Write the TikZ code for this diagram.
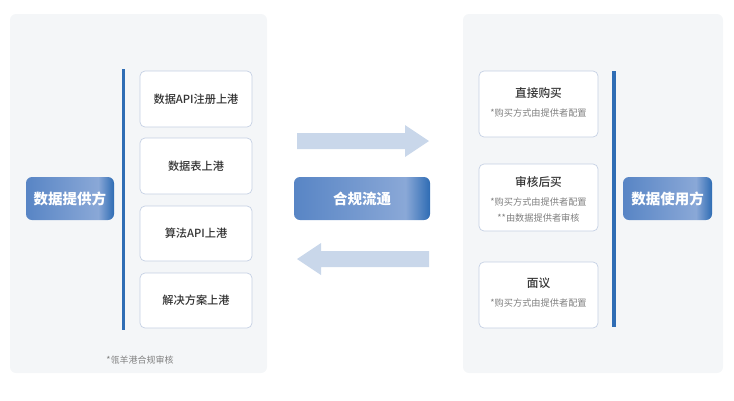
\documentclass[tikz,border=0pt]{standalone}
\usepackage{fontspec}
\setmainfont{Noto Sans CJK SC}
\newfontfamily\cjkmed{Noto Sans CJK SC}[UprightFont=* Medium]
\definecolor{panelbg}{HTML}{F4F6F8}
\definecolor{barblue}{HTML}{2F6DB5}
\definecolor{boxline}{HTML}{C6D1E4}
\definecolor{arrowc}{HTML}{C9D7EA}
\definecolor{txtdark}{HTML}{333333}
\definecolor{txtgray}{HTML}{808080}
\definecolor{lbA}{HTML}{5885C5}
\definecolor{lbB}{HTML}{8AA8D7}
\definecolor{lbC}{HTML}{2E6CB4}
\pgfdeclarehorizontalshading{lblshade}{100bp}{color(0bp)=(lbA); color(25bp)=(lbA); color(66bp)=(lbB); color(75bp)=(lbC); color(100bp)=(lbC)}
\begin{document}
\begin{tikzpicture}[x=1pt,y=-1pt,
  panel/.style={fill=panelbg,draw=none,rounded corners=6pt},
  lbl/.style={rounded corners=6pt,shading=lblshade,shading angle=0,draw=none,minimum width=88pt,minimum height=43pt,text=white,font=\bfseries\fontsize{14.5}{17}\selectfont,inner sep=0pt},
  itembox/.style={draw=boxline,line width=0.7pt,fill=white,rounded corners=5pt,inner sep=0pt},
  itemtxt/.style={text=txtdark,font=\cjkmed\fontsize{11.2}{13}\selectfont},
  ttl/.style={text=txtdark,font=\cjkmed\fontsize{11.7}{14}\selectfont},
  sub/.style={text=txtgray,font=\fontsize{9.2}{11}\selectfont},
  vbar/.style={barblue,line width=3.5pt},
  bigarrow/.style={fill=arrowc,draw=none}
]
\useasboundingbox (0,0) rectangle (734,400);
% panels
\fill[panel] (10,14) rectangle (267,373);
\fill[panel] (463,14) rectangle (723,373);
% left side
\node[lbl] (prov) at (70,198.5) {数据提供方};
\coordinate (lbt) at (123.5,69);
\coordinate (lbb) at (123.5,330);
\draw[vbar] (lbt) -- (lbb);
\node[itembox,minimum width=112pt,minimum height=56pt] (b1) at (196,99) {};
\node[itemtxt] (t1) at (b1.center) {数据API注册上港};
\node[itembox,minimum width=112pt,minimum height=56pt] (b2) at (196,166) {};
\node[itemtxt] (t2) at (b2.center) {数据表上港};
\node[itembox,minimum width=112pt,minimum height=55pt] (b3) at (196,233.5) {};
\node[itemtxt] (t3) at (b3.center) {算法API上港};
\node[itembox,minimum width=112pt,minimum height=55pt] (b4) at (196,300.5) {};
\node[itemtxt] (t4) at (b4.center) {解决方案上港};
\node[sub,font=\fontsize{9}{11}\selectfont] (foot) at (140,360) {*瓴羊港合规审核};
% middle
\fill[bigarrow] (297,133) -- (405,133) -- (405,125) -- (429,141) -- (405,157) -- (405,149) -- (297,149) -- cycle;
\node[lbl,minimum width=136pt] (mid) at (362,198.5) {合规流通};
\fill[bigarrow] (429,251) -- (321,251) -- (321,243) -- (297,259) -- (321,275) -- (321,267) -- (429,267) -- cycle;
% right side
\node[itembox,minimum width=119pt,minimum height=66pt] (r1) at (538.5,104) {};
\node[ttl] (r1t) at (538.5,93) {直接购买};
\node[sub] (r1s) at (538.5,113) {*购买方式由提供者配置};
\node[itembox,minimum width=119pt,minimum height=67pt] (r2) at (538.5,197.5) {};
\node[ttl] (r2t) at (538.5,182) {审核后买};
\node[sub] (r2s) at (538.5,202) {*购买方式由提供者配置};
\node[sub] (r2u) at (538.5,218) {**由数据提供者审核};
\node[itembox,minimum width=119pt,minimum height=66pt] (r3) at (538.5,295) {};
\node[ttl] (r3t) at (538.5,283) {面议};
\node[sub] (r3s) at (538.5,303) {*购买方式由提供者配置};
\coordinate (rbt) at (614,71);
\coordinate (rbb) at (614,327);
\draw[vbar] (rbt) -- (rbb);
\node[lbl,minimum width=89pt] (user) at (667.5,198.5) {数据使用方};
\end{tikzpicture}
\end{document}
